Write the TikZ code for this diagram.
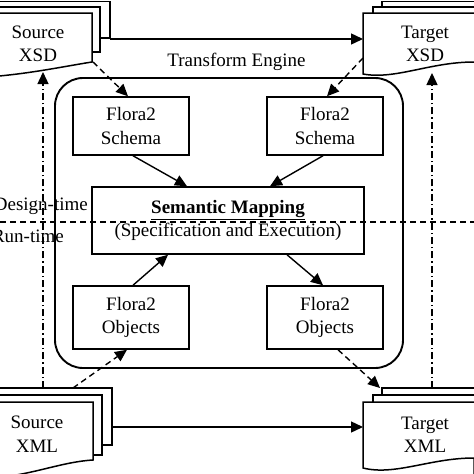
\documentclass[tikz,border=0pt]{standalone}
\usepackage{fontspec}
\setmainfont{Liberation Serif}
\usetikzlibrary{arrows.meta}
\begin{document}
\begin{tikzpicture}[x=1pt,y=-1pt,
  every node/.style={font=\fontsize{19}{23.5}\selectfont},
  box/.style={draw, line width=1.5pt, fill=white, align=center, inner sep=0pt},
  doc/.style={draw, line width=1.5pt, fill=white},
  arr/.style={line width=1.4pt, -{Triangle[length=12pt,width=11pt]}},
  darr/.style={arr, dash pattern=on 6pt off 4pt},
  ddarr/.style={arr, dash pattern=on 7pt off 3pt on 1.4pt off 3pt},
  lbl/.style={align=center, inner sep=0pt}
]
\useasboundingbox (0,0) rectangle (474,474);
\clip (0,0) rectangle (474,474);

% big rounded frame
\draw[line width=1.9pt, rounded corners=28pt] (55,78) rectangle (403,368);

% Source XSD stack
\draw[doc] (-30,1.5) rectangle (110,38);
\draw[doc] (-30,7) rectangle (100,52);
\draw[doc] (-30,13) -- (92,13) -- (92,62) .. controls (60,67) and (20,76) .. (-30,78) -- cycle;
\node[lbl] (sxsd) at (38,44) {Source\\XSD};

% Target XSD stack
\draw[doc] (382,1.5) rectangle (510,40);
\draw[doc] (373,7) rectangle (510,52);
\draw[doc] (363,13) -- (510,13) -- (510,62) -- (474,62) .. controls (430,62) and (395,80) .. (363,74) -- cycle;
\node[lbl] (txsd) at (425,44) {Target\\XSD};

% Source XML stack
\draw[doc] (-30,388) rectangle (112,445);
\draw[doc] (-30,395) rectangle (102,455);
\draw[doc] (-30,402) -- (93,402) -- (93,460) .. controls (60,462) and (30,476) .. (-10,478) -- (-30,478) -- cycle;
\node[lbl] (sxml) at (37,434) {Source\\XML};

% Target XML stack
\draw[doc] (382,388) rectangle (510,445);
\draw[doc] (373,395) rectangle (510,455);
\draw[doc] (363,402) -- (510,402) -- (510,478) -- (474,478) -- (474,458) .. controls (430,458) and (395,476) .. (363,468) -- cycle;
\node[lbl] (txml) at (425,435) {Target\\XML};

% inner boxes
\node[box, minimum width=116pt, minimum height=58pt] (fsl) at (131,126) {Flora2\\Schema};
\node[box, minimum width=116pt, minimum height=58pt] (fsr) at (325,126) {Flora2\\Schema};
\node[box, minimum width=116pt, minimum height=63pt] (fol) at (131,317.5) {Flora2\\Objects};
\node[box, minimum width=116pt, minimum height=63pt] (for) at (325,317.5) {Flora2\\Objects};
\node[box, minimum width=272pt, minimum height=67pt] (sem) at (228,220.5) {\textbf{\underline{Semantic Mapping}}\\(Specification and Execution)};

% connection points on documents
\coordinate (sxsdA) at (110,39);
\coordinate (txsdA) at (363,39);
\coordinate (sxmlA) at (112,427);
\coordinate (txmlA) at (363,427);
\coordinate (sxsdB) at (93,62);
\coordinate (txsdB) at (363,58);
\coordinate (sxmlB) at (73,388);
\coordinate (txmlB) at (380,388);
\coordinate (sxsdC) at (43,72);
\coordinate (sxmlC) at (43,388);
\coordinate (txsdC) at (432,73);
\coordinate (txmlC) at (432,388);
\coordinate (dl) at (0,222);
\coordinate (dr) at (474,222);

% transform arrows
\draw[arr] (sxsdA) -- (txsdA) node[midway, below=13pt, inner sep=0pt] (te) {Transform Engine};
\draw[arr] (sxmlA) -- (txmlA);

% dashed data-flow arrows
\draw[darr] (sxsdB) -- ([xshift=-3pt]fsl.north);
\draw[darr] (txsdB) -- ([xshift=2pt]fsr.north);
\draw[darr] (sxmlB) -- ([xshift=-4pt]fol.south);
\draw[darr] ([xshift=13pt]for.south) -- (txmlB);

% solid arrows to/from semantic mapping
\draw[arr] ([xshift=2pt]fsl.south) -- ([xshift=-41pt]sem.north);
\draw[arr] ([xshift=-2pt]fsr.south) -- ([xshift=42pt]sem.north);
\draw[arr] ([xshift=2pt]fol.north) -- ([xshift=-60pt]sem.south);
\draw[arr] ([xshift=59pt]sem.south) -- ([xshift=-2pt]for.north);

% dash-dot vertical arrows
\draw[ddarr] (sxmlC) -- (sxsdC);
\draw[ddarr] (txmlC) -- (txsdC);

% design-time / run-time divider
\draw[line width=1.4pt, dash pattern=on 6pt off 4pt] (dl) -- (dr);
\node[anchor=base east, inner sep=0pt] (dt) at (88,210) {Design-time};
\node[anchor=base east, inner sep=0pt] (rt) at (64,242) {Run-time};
\end{tikzpicture}
\end{document}
